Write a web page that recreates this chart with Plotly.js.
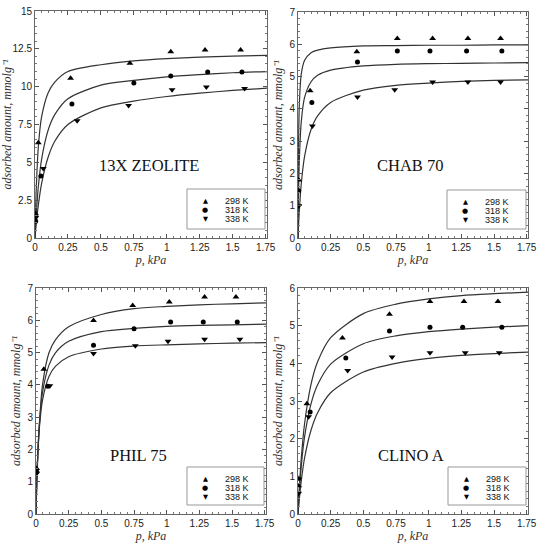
<!DOCTYPE html>
<html><head><meta charset="utf-8">
<script src="https://cdn.plot.ly/plotly-3.0.1.min.js"></script>
<style>html,body{margin:0;padding:0;background:#fff}#chart{width:538px;height:550px}</style>
</head><body><div id="chart"></div>
<script>
// ---------- data ----------
const temps = ['298 K', '318 K', '338 K'];
const panelNames = ['13X ZEOLITE', 'CHAB 70', 'PHIL 75', 'CLINO A'];
const xTickVals = [0, 0.25, 0.5, 0.75, 1, 1.25, 1.5, 1.75];
const xTickText = ['0', '0.25', '0.5', '0.75', '1', '1.25', '1.5', '1.75'];
const yTickVals15 = [0, 2.5, 5, 7.5, 10, 12.5, 15];
const yTickText15 = ['0', '2.5', '5', '7.5', '10', '12.5', '15'];

// fitted-curve pressures (kPa)
const curveP = [0, 0.002, 0.005, 0.01, 0.025, 0.05, 0.1, 0.15, 0.25, 0.5, 0.75, 1.0, 1.25, 1.5, 1.76];

// 13X ZEOLITE
const zeoP298 = [0.005, 0.025, 0.27, 0.72, 1.03, 1.29, 1.56];
const zeoQ298 = [1.6, 6.3, 10.55, 11.55, 12.3, 12.42, 12.42];
const zeoP318 = [0.005, 0.045, 0.28, 0.75, 1.03, 1.31, 1.57];
const zeoQ318 = [1.1, 4.1, 8.85, 10.25, 10.7, 10.97, 10.97];
const zeoP338 = [0.006, 0.063, 0.32, 0.71, 1.04, 1.30, 1.59];
const zeoQ338 = [1.35, 4.6, 7.75, 8.75, 9.8, 9.97, 9.88];
const zeoFit298 = [0, 0.87, 1.96, 3.37, 6.0, 8.0, 9.6, 10.3, 11.0, 11.45, 11.7, 11.85, 11.95, 12.02, 12.07];
const zeoFit318 = [0, 0.37, 0.89, 1.64, 3.37, 5.2, 7.14, 8.15, 9.2, 10.1, 10.42, 10.65, 10.8, 10.92, 11.0];
const zeoFit338 = [0, 0.21, 0.52, 1.0, 2.16, 3.6, 5.35, 6.39, 7.5, 8.6, 9.05, 9.35, 9.57, 9.75, 9.9];

// CHAB 70
const chabP298 = [0.005, 0.093, 0.45, 0.76, 1.03, 1.30, 1.55];
const chabQ298 = [1.8, 4.56, 5.77, 6.18, 6.18, 6.18, 6.18];
const chabP318 = [0.005, 0.106, 0.455, 0.76, 1.01, 1.29, 1.56];
const chabQ318 = [1.46, 4.2, 5.45, 5.79, 5.79, 5.79, 5.79];
const chabP338 = [0.006, 0.11, 0.455, 0.74, 1.03, 1.30, 1.55];
const chabQ338 = [1.0, 3.47, 4.37, 4.59, 4.83, 4.83, 4.83];
const chabFit298 = [0, 1.83, 3.14, 4.12, 5.08, 5.5, 5.74, 5.82, 5.89, 5.95, 5.96, 5.97, 5.97, 5.98, 5.98];
const chabFit318 = [0, 0.73, 1.53, 2.39, 3.6, 4.35, 4.84, 5.04, 5.2, 5.33, 5.38, 5.4, 5.41, 5.42, 5.43];
const chabFit338 = [0, 0.2, 0.46, 0.84, 1.68, 2.52, 3.36, 3.78, 4.2, 4.58, 4.73, 4.8, 4.85, 4.88, 4.9];

// PHIL 75
const philP298 = [0.005, 0.06, 0.44, 0.74, 1.02, 1.29, 1.53];
const philQ298 = [1.41, 4.48, 5.99, 6.46, 6.57, 6.72, 6.72];
const philP318 = [0.005, 0.09, 0.44, 0.75, 1.03, 1.28, 1.54];
const philQ318 = [1.31, 3.96, 5.23, 5.74, 5.95, 5.95, 5.95];
const philP338 = [0.006, 0.106, 0.44, 0.76, 1.01, 1.29, 1.56];
const philQ338 = [1.26, 3.97, 4.97, 5.21, 5.35, 5.41, 5.41];
const philFit298 = [0, 0.33, 0.78, 1.39, 2.7, 4.0, 5.0, 5.4, 5.8, 6.18, 6.36, 6.43, 6.48, 6.51, 6.54];
const philFit318 = [0, 0.38, 0.87, 1.52, 2.75, 3.77, 4.62, 5.0, 5.35, 5.65, 5.75, 5.81, 5.84, 5.86, 5.88];
const philFit338 = [0, 0.38, 0.86, 1.49, 2.63, 3.53, 4.27, 4.58, 4.87, 5.11, 5.2, 5.24, 5.27, 5.29, 5.31];

// CLINO A
const clinoP298 = [0.005, 0.068, 0.34, 0.70, 1.01, 1.27, 1.53];
const clinoQ298 = [0.75, 2.93, 4.67, 5.3, 5.64, 5.64, 5.64];
const clinoP318 = [0.006, 0.093, 0.366, 0.70, 1.01, 1.26, 1.56];
const clinoQ318 = [0.95, 2.71, 4.14, 4.86, 4.96, 4.96, 4.96];
const clinoP338 = [0.005, 0.081, 0.38, 0.72, 1.01, 1.28, 1.54];
const clinoQ338 = [0.55, 2.58, 3.81, 4.17, 4.28, 4.28, 4.28];
const clinoFit298 = [0, 0.15, 0.37, 0.69, 1.48, 2.39, 3.45, 4.04, 4.68, 5.32, 5.57, 5.71, 5.8, 5.85, 5.89];
const clinoFit318 = [0, 0.13, 0.31, 0.59, 1.27, 2.04, 2.93, 3.43, 3.98, 4.52, 4.73, 4.84, 4.91, 4.96, 5.0];
const clinoFit338 = [0, 0.09, 0.21, 0.4, 0.88, 1.48, 2.23, 2.69, 3.22, 3.77, 4.0, 4.13, 4.21, 4.26, 4.3];

// legend key glyphs
const legendGlyphs = ['\u25B2', '\u25CF', '\u25BC'];

// ---------- build ----------
const panels = [
  {pts: [[zeoP298, zeoQ298], [zeoP318, zeoQ318], [zeoP338, zeoQ338]], fits: [zeoFit298, zeoFit318, zeoFit338]},
  {pts: [[chabP298, chabQ298], [chabP318, chabQ318], [chabP338, chabQ338]], fits: [chabFit298, chabFit318, chabFit338]},
  {pts: [[philP298, philQ298], [philP318, philQ318], [philP338, philQ338]], fits: [philFit298, philFit318, philFit338]},
  {pts: [[clinoP298, clinoQ298], [clinoP318, clinoQ318], [clinoP338, clinoQ338]], fits: [clinoFit298, clinoFit318, clinoFit338]}
];
const symbols = ['triangle-up', 'circle', 'triangle-down'];
const msizes = [6, 5, 6];
const traces = [];
panels.forEach((pn, i) => {
  const xa = i === 0 ? 'x' : 'x' + (i + 1);
  const ya = i === 0 ? 'y' : 'y' + (i + 1);
  pn.fits.forEach(f => {
    traces.push({x: curveP, y: f, xaxis: xa, yaxis: ya, mode: 'lines',
      line: {color: '#333', width: 1.2, shape: 'spline', smoothing: 0.8},
      showlegend: false, hoverinfo: 'skip'});
  });
  pn.pts.forEach((pq, k) => {
    traces.push({x: pq[0], y: pq[1], xaxis: xa, yaxis: ya, mode: 'markers', name: temps[k],
      showlegend: false, marker: {symbol: symbols[k], color: '#000', size: msizes[k]}});
  });
});

const W = 538, H = 550;
const boxes = [ [35, 267, 11, 238], [298, 528, 12, 238], [36, 266, 288, 514], [298, 528, 288, 514] ];
const tickFont = {family: 'Liberation Sans, Arial, sans-serif', size: 10, color: '#222'};
const titleFont = {family: 'Liberation Serif, Times New Roman, serif', size: 12, color: '#333', style: 'italic'};

const layout = {
  width: W, height: H, margin: {l: 0, r: 0, t: 0, b: 0},
  paper_bgcolor: '#fff', plot_bgcolor: '#fff', showlegend: false,
  annotations: [], shapes: [], font: tickFont
};
boxes.forEach((b, i) => {
  const sfx = i === 0 ? '' : String(i + 1);
  const yRange = i === 0 ? [0, 15] : (i === 3 ? [0, 6] : [0, 7]);
  layout['xaxis' + sfx] = {
    domain: [b[0] / W, b[1] / W], anchor: 'y' + sfx, range: [0, 1.76],
    tickmode: 'array', tickvals: xTickVals, ticktext: xTickText,
    ticks: 'inside', ticklen: 4, tickcolor: '#555', tickfont: tickFont,
    showline: true, linecolor: '#666', linewidth: 1, mirror: 'ticks',
    showgrid: false, zeroline: false,
    minor: {ticks: 'inside', ticklen: 2, tick0: 0, dtick: 0.05, tickcolor: '#777', showgrid: false},
    title: {text: 'p, kPa', font: titleFont, standoff: 3}
  };
  const yax = {
    domain: [1 - b[3] / H, 1 - b[2] / H], anchor: 'x' + sfx, range: yRange,
    ticks: 'inside', ticklen: 4, tickcolor: '#555', tickfont: tickFont,
    showline: true, linecolor: '#666', linewidth: 1, mirror: 'ticks',
    showgrid: false, zeroline: false,
    title: {text: 'adsorbed amount, mmolg\u207B\u00B9', font: titleFont, standoff: 4}
  };
  if (i === 0) {
    yax.tickmode = 'array'; yax.tickvals = yTickVals15; yax.ticktext = yTickText15;
    yax.minor = {ticks: 'inside', ticklen: 2, tick0: 0, dtick: 0.5, tickcolor: '#777', showgrid: false};
  } else {
    yax.tickmode = 'linear'; yax.tick0 = 0; yax.dtick = 1;
    yax.minor = {ticks: 'inside', ticklen: 2, tick0: 0, dtick: 0.2, tickcolor: '#777', showgrid: false};
  }
  layout['yaxis' + sfx] = yax;
});

// legend keys: box [left, right, top, bottom] in px
const legendBoxes = [[187, 265, 189, 229], [447, 526, 190, 229], [187, 264, 467, 505], [448, 526, 467, 505]];
legendBoxes.forEach(lb => {
  layout.shapes.push({type: 'rect', xref: 'paper', yref: 'paper',
    x0: lb[0] / W, x1: lb[1] / W, y0: 1 - lb[3] / H, y1: 1 - lb[2] / H,
    line: {color: '#999', width: 1}, fillcolor: '#fff', layer: 'above'});
  temps.forEach((t, k) => {
    const yy = 1 - (lb[2] + 12 + k * 9) / H;
    layout.annotations.push({xref: 'paper', yref: 'paper', x: (lb[0] + 18) / W, y: yy,
      text: legendGlyphs[k], showarrow: false, xanchor: 'center', yanchor: 'middle',
      font: {family: 'DejaVu Sans, sans-serif', size: k === 1 ? 7 : 6.5, color: '#000'}});
    layout.annotations.push({xref: 'paper', yref: 'paper', x: (lb[0] + 36) / W, y: yy,
      text: t, showarrow: false, xanchor: 'left', yanchor: 'middle',
      font: {family: 'Liberation Sans, Arial, sans-serif', size: 9, color: '#111'}});
  });
});

const labelPos = [[149, 166], [410, 166], [138, 455], [411, 455]];
labelPos.forEach((p, i) => {
  layout.annotations.push({xref: 'paper', yref: 'paper', x: p[0] / W, y: 1 - p[1] / H,
    text: panelNames[i], showarrow: false, xanchor: 'center', yanchor: 'middle',
    font: {family: 'Liberation Serif, Times New Roman, serif', size: 16.5, color: '#111'}});
});

Plotly.newPlot('chart', traces, layout, {staticPlot: true, displayModeBar: false});
</script>
</body></html>
